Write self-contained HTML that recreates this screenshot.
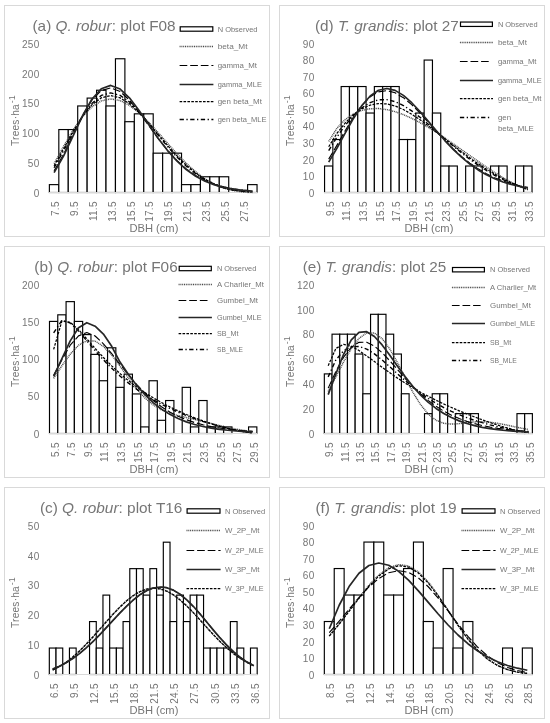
<!DOCTYPE html>
<html><head><meta charset="utf-8"><style>
html,body{margin:0;padding:0;background:#fff;}
svg{display:block;filter:grayscale(100%);}
text{font-family:"Liberation Sans", sans-serif;}
</style></head><body>
<svg width="550" height="723" viewBox="0 0 550 723">
<rect width="550" height="723" fill="#fff"/>
<g><rect x="4.5" y="5.5" width="265" height="231" fill="none" stroke="#d9d9d9" stroke-width="1"/>
<text x="32.5" y="30.6" font-size="14.2" fill="#767676" textLength="143.1" lengthAdjust="spacingAndGlyphs">(a) <tspan font-style="italic">Q. robur</tspan>: plot F08</text>
<text x="39.6" y="196.7" font-size="10.0" text-anchor="end" fill="#767676" letter-spacing="0.3">0</text>
<text x="39.6" y="166.9" font-size="10.0" text-anchor="end" fill="#767676" letter-spacing="0.3">50</text>
<text x="39.6" y="137.1" font-size="10.0" text-anchor="end" fill="#767676" letter-spacing="0.3">100</text>
<text x="39.6" y="107.3" font-size="10.0" text-anchor="end" fill="#767676" letter-spacing="0.3">150</text>
<text x="39.6" y="77.5" font-size="10.0" text-anchor="end" fill="#767676" letter-spacing="0.3">200</text>
<text x="39.6" y="47.7" font-size="10.0" text-anchor="end" fill="#767676" letter-spacing="0.3">250</text>
<text transform="translate(18.6 146) rotate(-90)" font-size="10.2" letter-spacing="0.2" fill="#767676">Trees·ha<tspan font-size="8.2" dx="1" dy="-3.3">-1</tspan></text>
<text transform="translate(59.1 201.2) rotate(-90)" font-size="10.0" fill="#767676" text-anchor="end" letter-spacing="0.3">7.5</text>
<text transform="translate(77.98 201.2) rotate(-90)" font-size="10.0" fill="#767676" text-anchor="end" letter-spacing="0.3">9.5</text>
<text transform="translate(96.86 201.2) rotate(-90)" font-size="10.0" fill="#767676" text-anchor="end" letter-spacing="0.3">11.5</text>
<text transform="translate(115.73 201.2) rotate(-90)" font-size="10.0" fill="#767676" text-anchor="end" letter-spacing="0.3">13.5</text>
<text transform="translate(134.61 201.2) rotate(-90)" font-size="10.0" fill="#767676" text-anchor="end" letter-spacing="0.3">15.5</text>
<text transform="translate(153.49 201.2) rotate(-90)" font-size="10.0" fill="#767676" text-anchor="end" letter-spacing="0.3">17.5</text>
<text transform="translate(172.37 201.2) rotate(-90)" font-size="10.0" fill="#767676" text-anchor="end" letter-spacing="0.3">19.5</text>
<text transform="translate(191.25 201.2) rotate(-90)" font-size="10.0" fill="#767676" text-anchor="end" letter-spacing="0.3">21.5</text>
<text transform="translate(210.12 201.2) rotate(-90)" font-size="10.0" fill="#767676" text-anchor="end" letter-spacing="0.3">23.5</text>
<text transform="translate(229 201.2) rotate(-90)" font-size="10.0" fill="#767676" text-anchor="end" letter-spacing="0.3">25.5</text>
<text transform="translate(247.88 201.2) rotate(-90)" font-size="10.0" fill="#767676" text-anchor="end" letter-spacing="0.3">27.5</text>
<text x="129.4" y="232.2" font-size="10.2" textLength="49" lengthAdjust="spacingAndGlyphs" fill="#767676">DBH (cm)</text>
<rect x="49.38" y="184.63" width="9.44" height="7.87" fill="#fff" stroke="#000" stroke-width="1.15"/>
<rect x="58.82" y="129.56" width="9.44" height="62.94" fill="#fff" stroke="#000" stroke-width="1.15"/>
<rect x="68.26" y="129.56" width="9.44" height="62.94" fill="#fff" stroke="#000" stroke-width="1.15"/>
<rect x="77.7" y="105.96" width="9.44" height="86.54" fill="#fff" stroke="#000" stroke-width="1.15"/>
<rect x="87.14" y="98.09" width="9.44" height="94.41" fill="#fff" stroke="#000" stroke-width="1.15"/>
<rect x="96.58" y="90.23" width="9.44" height="102.27" fill="#fff" stroke="#000" stroke-width="1.15"/>
<rect x="106.01" y="105.96" width="9.44" height="86.54" fill="#fff" stroke="#000" stroke-width="1.15"/>
<rect x="115.45" y="58.76" width="9.44" height="133.74" fill="#fff" stroke="#000" stroke-width="1.15"/>
<rect x="124.89" y="121.7" width="9.44" height="70.8" fill="#fff" stroke="#000" stroke-width="1.15"/>
<rect x="134.33" y="113.83" width="9.44" height="78.67" fill="#fff" stroke="#000" stroke-width="1.15"/>
<rect x="143.77" y="113.83" width="9.44" height="78.67" fill="#fff" stroke="#000" stroke-width="1.15"/>
<rect x="153.21" y="153.16" width="9.44" height="39.34" fill="#fff" stroke="#000" stroke-width="1.15"/>
<rect x="162.65" y="153.16" width="9.44" height="39.34" fill="#fff" stroke="#000" stroke-width="1.15"/>
<rect x="172.09" y="153.16" width="9.44" height="39.34" fill="#fff" stroke="#000" stroke-width="1.15"/>
<rect x="181.53" y="184.63" width="9.44" height="7.87" fill="#fff" stroke="#000" stroke-width="1.15"/>
<rect x="190.97" y="184.63" width="9.44" height="7.87" fill="#fff" stroke="#000" stroke-width="1.15"/>
<rect x="200.41" y="176.77" width="9.44" height="15.73" fill="#fff" stroke="#000" stroke-width="1.15"/>
<rect x="209.84" y="176.77" width="9.44" height="15.73" fill="#fff" stroke="#000" stroke-width="1.15"/>
<rect x="219.28" y="176.77" width="9.44" height="15.73" fill="#fff" stroke="#000" stroke-width="1.15"/>
<rect x="247.6" y="184.63" width="9.44" height="7.87" fill="#fff" stroke="#000" stroke-width="1.15"/>
<line x1="48.88" y1="192.5" x2="257.54" y2="192.5" stroke="#d9d9d9" stroke-width="1"/>
<path d="M54.1 163.7 L63.54 146.46 L72.98 130.31 L82.42 116.82 L91.86 106.88 L101.3 100.91 L110.73 98.9 L120.17 100.57 L129.61 105.42 L139.05 112.83 L148.49 122.06 L157.93 132.4 L167.37 143.14 L176.81 153.63 L186.25 163.34 L195.69 171.85 L205.12 178.89 L214.56 184.33 L224 188.18 L233.44 190.61 L242.88 191.9 L252.32 192.4" fill="none" stroke="#4a4a4a" stroke-width="1.5" stroke-dasharray="1 0.8" stroke-linejoin="round"/>
<path d="M54.1 170.9 L63.54 154.31 L72.98 134.8 L82.42 115.63 L91.86 100.1 L101.3 90.54 L110.73 87.85 L120.17 91.56 L129.61 100.24 L139.05 112.04 L148.49 125.19 L157.93 138.23 L167.37 150.16 L176.81 160.44 L186.25 168.86 L195.69 175.5 L205.12 180.54 L214.56 184.25 L224 186.92 L233.44 188.79 L242.88 190.07 L252.32 190.94" fill="none" stroke="#000" stroke-width="1.15" stroke-dasharray="7.7 2.9" stroke-linejoin="round"/>
<path d="M54.1 165.86 L63.54 148.81 L72.98 131.66 L82.42 116.46 L91.86 104.85 L101.3 97.8 L110.73 95.59 L120.17 97.87 L129.61 103.87 L139.05 112.59 L148.49 123 L157.93 134.15 L167.37 145.24 L176.81 155.67 L186.25 165 L195.69 172.95 L205.12 179.39 L214.56 184.3 L224 187.8 L233.44 190.06 L242.88 191.35 L252.32 191.96" fill="none" stroke="#000" stroke-width="1.25" stroke-dasharray="2.6 1.3" stroke-linejoin="round"/>
<path d="M54.1 167.74 L63.54 150.84 L72.98 132.96 L82.42 116.46 L91.86 103.47 L101.3 95.42 L110.73 92.83 L120.17 95.38 L129.61 102.1 L139.05 111.75 L148.49 123.05 L157.93 134.88 L167.37 146.37 L176.81 156.91 L186.25 166.12 L195.69 173.81 L205.12 179.94 L214.56 184.56 L224 187.83 L233.44 189.97 L242.88 191.21 L252.32 191.84" fill="none" stroke="#000" stroke-width="1.4" stroke-dasharray="4.3 2.5 1.3 2.5" stroke-linejoin="round"/>
<path d="M54.1 172.67 L63.54 156.19 L72.98 136.19 L82.42 116.02 L91.86 99.29 L101.3 88.71 L110.73 85.42 L120.17 89.03 L129.61 98.03 L139.05 110.43 L148.49 124.25 L157.93 137.91 L167.37 150.33 L176.81 160.93 L186.25 169.52 L195.69 176.2 L205.12 181.21 L214.56 184.85 L224 187.41 L233.44 189.18 L242.88 190.37 L252.32 191.15" fill="none" stroke="#262626" stroke-width="1.7" stroke-linejoin="round"/>
<rect x="180.2" y="26.8" width="32.6" height="4.4" fill="#fff" stroke="#000" stroke-width="1.2"/>
<text x="217.7" y="31.5" font-size="7.9" textLength="39.8" lengthAdjust="spacingAndGlyphs" fill="#767676">N Observed</text>
<line x1="179.6" y1="46.5" x2="213.4" y2="46.5" fill="none" stroke="#4a4a4a" stroke-width="1.5" stroke-dasharray="1 0.8"/>
<text x="217.7" y="49.4" font-size="7.9" textLength="29.8" lengthAdjust="spacingAndGlyphs" fill="#767676">beta_Mt</text>
<line x1="179.6" y1="65.5" x2="213.4" y2="65.5" fill="none" stroke="#000" stroke-width="1.15" stroke-dasharray="7.7 2.9"/>
<text x="217.7" y="67.9" font-size="7.9" textLength="39.3" lengthAdjust="spacingAndGlyphs" fill="#767676">gamma_Mt</text>
<line x1="179.6" y1="84.5" x2="213.4" y2="84.5" fill="none" stroke="#262626" stroke-width="1.7"/>
<text x="217.7" y="86.5" font-size="7.9" textLength="44.2" lengthAdjust="spacingAndGlyphs" fill="#767676">gamma_MLE</text>
<line x1="179.6" y1="101.5" x2="213.4" y2="101.5" fill="none" stroke="#000" stroke-width="1.25" stroke-dasharray="2.6 1.3"/>
<text x="217.7" y="103.9" font-size="7.9" textLength="44.2" lengthAdjust="spacingAndGlyphs" fill="#767676">gen beta_Mt</text>
<line x1="179.6" y1="119.5" x2="213.4" y2="119.5" fill="none" stroke="#000" stroke-width="1.4" stroke-dasharray="4.3 2.5 1.3 2.5"/>
<text x="217.7" y="122.3" font-size="7.9" textLength="48.8" lengthAdjust="spacingAndGlyphs" fill="#767676">gen beta_MLE</text></g>
<g><rect x="279.5" y="5.5" width="265" height="231" fill="none" stroke="#d9d9d9" stroke-width="1"/>
<text x="315" y="30.6" font-size="14.2" fill="#767676" textLength="143.8" lengthAdjust="spacingAndGlyphs">(d) <tspan font-style="italic">T. grandis</tspan>: plot 27</text>
<text x="314.6" y="196.7" font-size="10.0" text-anchor="end" fill="#767676" letter-spacing="0.3">0</text>
<text x="314.6" y="180.14" font-size="10.0" text-anchor="end" fill="#767676" letter-spacing="0.3">10</text>
<text x="314.6" y="163.59" font-size="10.0" text-anchor="end" fill="#767676" letter-spacing="0.3">20</text>
<text x="314.6" y="147.03" font-size="10.0" text-anchor="end" fill="#767676" letter-spacing="0.3">30</text>
<text x="314.6" y="130.48" font-size="10.0" text-anchor="end" fill="#767676" letter-spacing="0.3">40</text>
<text x="314.6" y="113.92" font-size="10.0" text-anchor="end" fill="#767676" letter-spacing="0.3">50</text>
<text x="314.6" y="97.37" font-size="10.0" text-anchor="end" fill="#767676" letter-spacing="0.3">60</text>
<text x="314.6" y="80.81" font-size="10.0" text-anchor="end" fill="#767676" letter-spacing="0.3">70</text>
<text x="314.6" y="64.26" font-size="10.0" text-anchor="end" fill="#767676" letter-spacing="0.3">80</text>
<text x="314.6" y="47.7" font-size="10.0" text-anchor="end" fill="#767676" letter-spacing="0.3">90</text>
<text transform="translate(293.6 146) rotate(-90)" font-size="10.2" letter-spacing="0.2" fill="#767676">Trees·ha<tspan font-size="8.2" dx="1" dy="-3.3">-1</tspan></text>
<text transform="translate(333.71 201.2) rotate(-90)" font-size="10.0" fill="#767676" text-anchor="end" letter-spacing="0.3">9.5</text>
<text transform="translate(350.31 201.2) rotate(-90)" font-size="10.0" fill="#767676" text-anchor="end" letter-spacing="0.3">11.5</text>
<text transform="translate(366.91 201.2) rotate(-90)" font-size="10.0" fill="#767676" text-anchor="end" letter-spacing="0.3">13.5</text>
<text transform="translate(383.5 201.2) rotate(-90)" font-size="10.0" fill="#767676" text-anchor="end" letter-spacing="0.3">15.5</text>
<text transform="translate(400.1 201.2) rotate(-90)" font-size="10.0" fill="#767676" text-anchor="end" letter-spacing="0.3">17.5</text>
<text transform="translate(416.7 201.2) rotate(-90)" font-size="10.0" fill="#767676" text-anchor="end" letter-spacing="0.3">19.5</text>
<text transform="translate(433.3 201.2) rotate(-90)" font-size="10.0" fill="#767676" text-anchor="end" letter-spacing="0.3">21.5</text>
<text transform="translate(449.9 201.2) rotate(-90)" font-size="10.0" fill="#767676" text-anchor="end" letter-spacing="0.3">23.5</text>
<text transform="translate(466.5 201.2) rotate(-90)" font-size="10.0" fill="#767676" text-anchor="end" letter-spacing="0.3">25.5</text>
<text transform="translate(483.1 201.2) rotate(-90)" font-size="10.0" fill="#767676" text-anchor="end" letter-spacing="0.3">27.5</text>
<text transform="translate(499.69 201.2) rotate(-90)" font-size="10.0" fill="#767676" text-anchor="end" letter-spacing="0.3">29.5</text>
<text transform="translate(516.29 201.2) rotate(-90)" font-size="10.0" fill="#767676" text-anchor="end" letter-spacing="0.3">31.5</text>
<text transform="translate(532.89 201.2) rotate(-90)" font-size="10.0" fill="#767676" text-anchor="end" letter-spacing="0.3">33.5</text>
<text x="404.4" y="232.2" font-size="10.2" textLength="49" lengthAdjust="spacingAndGlyphs" fill="#767676">DBH (cm)</text>
<rect x="324.56" y="166.01" width="8.3" height="26.49" fill="#fff" stroke="#000" stroke-width="1.15"/>
<rect x="332.86" y="139.52" width="8.3" height="52.98" fill="#fff" stroke="#000" stroke-width="1.15"/>
<rect x="341.16" y="86.54" width="8.3" height="105.96" fill="#fff" stroke="#000" stroke-width="1.15"/>
<rect x="349.46" y="86.54" width="8.3" height="105.96" fill="#fff" stroke="#000" stroke-width="1.15"/>
<rect x="357.76" y="86.54" width="8.3" height="105.96" fill="#fff" stroke="#000" stroke-width="1.15"/>
<rect x="366.06" y="113.03" width="8.3" height="79.47" fill="#fff" stroke="#000" stroke-width="1.15"/>
<rect x="374.36" y="86.54" width="8.3" height="105.96" fill="#fff" stroke="#000" stroke-width="1.15"/>
<rect x="382.65" y="86.54" width="8.3" height="105.96" fill="#fff" stroke="#000" stroke-width="1.15"/>
<rect x="390.95" y="86.54" width="8.3" height="105.96" fill="#fff" stroke="#000" stroke-width="1.15"/>
<rect x="399.25" y="139.52" width="8.3" height="52.98" fill="#fff" stroke="#000" stroke-width="1.15"/>
<rect x="407.55" y="139.52" width="8.3" height="52.98" fill="#fff" stroke="#000" stroke-width="1.15"/>
<rect x="415.85" y="113.03" width="8.3" height="79.47" fill="#fff" stroke="#000" stroke-width="1.15"/>
<rect x="424.15" y="60.06" width="8.3" height="132.44" fill="#fff" stroke="#000" stroke-width="1.15"/>
<rect x="432.45" y="113.03" width="8.3" height="79.47" fill="#fff" stroke="#000" stroke-width="1.15"/>
<rect x="440.75" y="166.01" width="8.3" height="26.49" fill="#fff" stroke="#000" stroke-width="1.15"/>
<rect x="449.05" y="166.01" width="8.3" height="26.49" fill="#fff" stroke="#000" stroke-width="1.15"/>
<rect x="465.65" y="166.01" width="8.3" height="26.49" fill="#fff" stroke="#000" stroke-width="1.15"/>
<rect x="473.95" y="166.01" width="8.3" height="26.49" fill="#fff" stroke="#000" stroke-width="1.15"/>
<rect x="490.54" y="166.01" width="8.3" height="26.49" fill="#fff" stroke="#000" stroke-width="1.15"/>
<rect x="498.84" y="166.01" width="8.3" height="26.49" fill="#fff" stroke="#000" stroke-width="1.15"/>
<rect x="515.44" y="166.01" width="8.3" height="26.49" fill="#fff" stroke="#000" stroke-width="1.15"/>
<rect x="523.74" y="166.01" width="8.3" height="26.49" fill="#fff" stroke="#000" stroke-width="1.15"/>
<line x1="324.06" y1="192.5" x2="532.54" y2="192.5" stroke="#d9d9d9" stroke-width="1"/>
<path d="M328.71 141.43 L337.01 128.18 L345.31 119.45 L353.61 113.76 L361.91 110.33 L370.21 108.7 L378.5 108.54 L386.8 109.59 L395.1 111.68 L403.4 114.63 L411.7 118.31 L420 122.6 L428.3 127.39 L436.6 132.58 L444.9 138.07 L453.2 143.78 L461.5 149.62 L469.8 155.5 L478.1 161.34 L486.39 167.05 L494.69 172.53 L502.99 177.67 L511.29 182.37 L519.59 186.47 L527.89 189.8" fill="none" stroke="#4a4a4a" stroke-width="1.5" stroke-dasharray="1 0.8" stroke-linejoin="round"/>
<path d="M328.71 159.13 L337.01 145.12 L345.31 130.52 L353.61 116.79 L361.91 105.21 L370.21 96.74 L378.5 91.86 L386.8 90.63 L395.1 92.75 L403.4 97.67 L411.7 104.68 L420 113.09 L428.3 122.22 L436.6 131.5 L444.9 140.48 L453.2 148.87 L461.5 156.45 L469.8 163.12 L478.1 168.86 L486.39 173.71 L494.69 177.72 L502.99 181 L511.29 183.64 L519.59 185.73 L527.89 187.38" fill="none" stroke="#000" stroke-width="1.15" stroke-dasharray="7.7 2.9" stroke-linejoin="round"/>
<path d="M328.71 146.74 L337.01 133.26 L345.31 122.77 L353.61 114.67 L361.91 108.79 L370.21 105.11 L378.5 103.53 L386.8 103.91 L395.1 106 L403.4 109.54 L411.7 114.22 L420 119.75 L428.3 125.84 L436.6 132.25 L444.9 138.79 L453.2 145.31 L461.5 151.67 L469.8 157.79 L478.1 163.6 L486.39 169.05 L494.69 174.09 L502.99 178.67 L511.29 182.75 L519.59 186.25 L527.89 189.07" fill="none" stroke="#000" stroke-width="1.25" stroke-dasharray="2.6 1.3" stroke-linejoin="round"/>
<path d="M328.71 150.61 L337.01 136.91 L345.31 125.21 L353.61 115.42 L361.91 107.78 L370.21 102.55 L378.5 99.85 L386.8 99.62 L395.1 101.63 L403.4 105.53 L411.7 110.89 L420 117.28 L428.3 124.31 L436.6 131.62 L444.9 138.95 L453.2 146.08 L461.5 152.87 L469.8 159.22 L478.1 165.09 L486.39 170.44 L494.69 175.27 L502.99 179.56 L511.29 183.3 L519.59 186.46 L527.89 188.98" fill="none" stroke="#000" stroke-width="1.4" stroke-dasharray="4.3 2.5 1.3 2.5" stroke-linejoin="round"/>
<path d="M328.71 162.14 L337.01 148.02 L345.31 132.86 L353.61 118.2 L361.91 105.54 L370.21 96.01 L378.5 90.27 L386.8 88.49 L395.1 90.39 L403.4 95.38 L411.7 102.72 L420 111.6 L428.3 121.26 L436.6 131.08 L444.9 140.55 L453.2 149.32 L461.5 157.19 L469.8 164.05 L478.1 169.9 L486.39 174.77 L494.69 178.76 L502.99 181.97 L511.29 184.51 L519.59 186.5 L527.89 188.03" fill="none" stroke="#262626" stroke-width="1.7" stroke-linejoin="round"/>
<rect x="460.5" y="22.05" width="31.9" height="4.4" fill="#fff" stroke="#000" stroke-width="1.2"/>
<text x="497.9" y="26.75" font-size="7.9" textLength="39.7" lengthAdjust="spacingAndGlyphs" fill="#767676">N Observed</text>
<line x1="459.9" y1="42.5" x2="493" y2="42.5" fill="none" stroke="#4a4a4a" stroke-width="1.5" stroke-dasharray="1 0.8"/>
<text x="497.9" y="44.7" font-size="7.9" textLength="29.1" lengthAdjust="spacingAndGlyphs" fill="#767676">beta_Mt</text>
<line x1="459.9" y1="61.5" x2="488.7" y2="61.5" fill="none" stroke="#000" stroke-width="1.15" stroke-dasharray="7.7 2.9"/>
<text x="497.9" y="64.4" font-size="7.9" textLength="38.6" lengthAdjust="spacingAndGlyphs" fill="#767676">gamma_Mt</text>
<line x1="459.9" y1="80.5" x2="493" y2="80.5" fill="none" stroke="#262626" stroke-width="1.7"/>
<text x="497.9" y="82.5" font-size="7.9" textLength="43.8" lengthAdjust="spacingAndGlyphs" fill="#767676">gamma_MLE</text>
<line x1="459.9" y1="98.5" x2="493" y2="98.5" fill="none" stroke="#000" stroke-width="1.25" stroke-dasharray="2.6 1.3"/>
<text x="497.9" y="101" font-size="7.9" textLength="43.5" lengthAdjust="spacingAndGlyphs" fill="#767676">gen beta_Mt</text>
<line x1="459.9" y1="117.5" x2="489.4" y2="117.5" fill="none" stroke="#000" stroke-width="1.4" stroke-dasharray="4.3 2.5 1.3 2.5"/>
<text x="497.9" y="119.5" font-size="7.9" fill="#767676">gen</text>
<text x="497.9" y="130.7" font-size="7.9" fill="#767676">beta_MLE</text></g>
<g><rect x="4.5" y="246.5" width="265" height="231" fill="none" stroke="#d9d9d9" stroke-width="1"/>
<text x="34.3" y="271.6" font-size="14.2" fill="#767676" textLength="143.4" lengthAdjust="spacingAndGlyphs">(b) <tspan font-style="italic">Q. robur</tspan>: plot F06</text>
<text x="39.6" y="437.7" font-size="10.0" text-anchor="end" fill="#767676" letter-spacing="0.3">0</text>
<text x="39.6" y="400.45" font-size="10.0" text-anchor="end" fill="#767676" letter-spacing="0.3">50</text>
<text x="39.6" y="363.2" font-size="10.0" text-anchor="end" fill="#767676" letter-spacing="0.3">100</text>
<text x="39.6" y="325.95" font-size="10.0" text-anchor="end" fill="#767676" letter-spacing="0.3">150</text>
<text x="39.6" y="288.7" font-size="10.0" text-anchor="end" fill="#767676" letter-spacing="0.3">200</text>
<text transform="translate(18.6 387) rotate(-90)" font-size="10.2" letter-spacing="0.2" fill="#767676">Trees·ha<tspan font-size="8.2" dx="1" dy="-3.3">-1</tspan></text>
<text transform="translate(58.64 442.2) rotate(-90)" font-size="10.0" fill="#767676" text-anchor="end" letter-spacing="0.3">5.5</text>
<text transform="translate(75.23 442.2) rotate(-90)" font-size="10.0" fill="#767676" text-anchor="end" letter-spacing="0.3">7.5</text>
<text transform="translate(91.81 442.2) rotate(-90)" font-size="10.0" fill="#767676" text-anchor="end" letter-spacing="0.3">9.5</text>
<text transform="translate(108.4 442.2) rotate(-90)" font-size="10.0" fill="#767676" text-anchor="end" letter-spacing="0.3">11.5</text>
<text transform="translate(124.99 442.2) rotate(-90)" font-size="10.0" fill="#767676" text-anchor="end" letter-spacing="0.3">13.5</text>
<text transform="translate(141.58 442.2) rotate(-90)" font-size="10.0" fill="#767676" text-anchor="end" letter-spacing="0.3">15.5</text>
<text transform="translate(158.17 442.2) rotate(-90)" font-size="10.0" fill="#767676" text-anchor="end" letter-spacing="0.3">17.5</text>
<text transform="translate(174.76 442.2) rotate(-90)" font-size="10.0" fill="#767676" text-anchor="end" letter-spacing="0.3">19.5</text>
<text transform="translate(191.35 442.2) rotate(-90)" font-size="10.0" fill="#767676" text-anchor="end" letter-spacing="0.3">21.5</text>
<text transform="translate(207.94 442.2) rotate(-90)" font-size="10.0" fill="#767676" text-anchor="end" letter-spacing="0.3">23.5</text>
<text transform="translate(224.53 442.2) rotate(-90)" font-size="10.0" fill="#767676" text-anchor="end" letter-spacing="0.3">25.5</text>
<text transform="translate(241.11 442.2) rotate(-90)" font-size="10.0" fill="#767676" text-anchor="end" letter-spacing="0.3">27.5</text>
<text transform="translate(257.7 442.2) rotate(-90)" font-size="10.0" fill="#767676" text-anchor="end" letter-spacing="0.3">29.5</text>
<text x="129.4" y="473.2" font-size="10.2" textLength="49" lengthAdjust="spacingAndGlyphs" fill="#767676">DBH (cm)</text>
<rect x="49.49" y="321.41" width="8.29" height="112.09" fill="#fff" stroke="#000" stroke-width="1.15"/>
<rect x="57.78" y="314.82" width="8.29" height="118.68" fill="#fff" stroke="#000" stroke-width="1.15"/>
<rect x="66.08" y="301.63" width="8.29" height="131.87" fill="#fff" stroke="#000" stroke-width="1.15"/>
<rect x="74.37" y="321.41" width="8.29" height="112.09" fill="#fff" stroke="#000" stroke-width="1.15"/>
<rect x="82.67" y="334.6" width="8.29" height="98.9" fill="#fff" stroke="#000" stroke-width="1.15"/>
<rect x="90.96" y="354.38" width="8.29" height="79.12" fill="#fff" stroke="#000" stroke-width="1.15"/>
<rect x="99.26" y="380.75" width="8.29" height="52.75" fill="#fff" stroke="#000" stroke-width="1.15"/>
<rect x="107.55" y="347.79" width="8.29" height="85.71" fill="#fff" stroke="#000" stroke-width="1.15"/>
<rect x="115.85" y="387.35" width="8.29" height="46.15" fill="#fff" stroke="#000" stroke-width="1.15"/>
<rect x="124.14" y="374.16" width="8.29" height="59.34" fill="#fff" stroke="#000" stroke-width="1.15"/>
<rect x="132.43" y="393.94" width="8.29" height="39.56" fill="#fff" stroke="#000" stroke-width="1.15"/>
<rect x="140.73" y="426.91" width="8.29" height="6.59" fill="#fff" stroke="#000" stroke-width="1.15"/>
<rect x="149.02" y="380.75" width="8.29" height="52.75" fill="#fff" stroke="#000" stroke-width="1.15"/>
<rect x="157.32" y="420.31" width="8.29" height="13.19" fill="#fff" stroke="#000" stroke-width="1.15"/>
<rect x="165.61" y="400.53" width="8.29" height="32.97" fill="#fff" stroke="#000" stroke-width="1.15"/>
<rect x="182.2" y="387.35" width="8.29" height="46.15" fill="#fff" stroke="#000" stroke-width="1.15"/>
<rect x="190.49" y="426.91" width="8.29" height="6.59" fill="#fff" stroke="#000" stroke-width="1.15"/>
<rect x="198.79" y="400.53" width="8.29" height="32.97" fill="#fff" stroke="#000" stroke-width="1.15"/>
<rect x="207.08" y="426.91" width="8.29" height="6.59" fill="#fff" stroke="#000" stroke-width="1.15"/>
<rect x="215.38" y="426.91" width="8.29" height="6.59" fill="#fff" stroke="#000" stroke-width="1.15"/>
<rect x="223.67" y="426.91" width="8.29" height="6.59" fill="#fff" stroke="#000" stroke-width="1.15"/>
<rect x="248.56" y="426.91" width="8.29" height="6.59" fill="#fff" stroke="#000" stroke-width="1.15"/>
<line x1="48.99" y1="433.5" x2="257.35" y2="433.5" stroke="#d9d9d9" stroke-width="1"/>
<path d="M53.64 378.37 L61.93 365.7 L70.23 354.16 L78.52 345.22 L86.81 340.75 L95.11 341.12 L103.4 346.33 L111.7 354.88 L119.99 366.13 L128.29 377.9 L136.58 388.8 L144.88 397.9 L153.17 404.85 L161.46 409.78 L169.76 413.16 L178.05 415.58 L186.35 417.56 L194.64 419.47 L202.94 421.46 L211.23 423.52 L219.53 425.57 L227.82 427.47 L236.11 429.12 L244.41 430.45 L252.7 431.48" fill="none" stroke="#4a4a4a" stroke-width="1.5" stroke-dasharray="1 0.8" stroke-linejoin="round"/>
<path d="M53.64 375.39 L61.93 359.75 L70.23 345.22 L78.52 335.9 L86.81 332.55 L95.11 336.03 L103.4 343.81 L111.7 353.68 L119.99 364.3 L128.29 374.74 L136.58 384.41 L144.88 393 L153.17 400.43 L161.46 406.71 L169.76 411.93 L178.05 416.22 L186.35 419.71 L194.64 422.52 L202.94 424.79 L211.23 426.6 L219.53 428.04 L227.82 429.18 L236.11 430.09 L244.41 430.81 L252.7 431.38" fill="none" stroke="#000" stroke-width="1.15" stroke-dasharray="7.7 2.9" stroke-linejoin="round"/>
<path d="M53.64 349.31 L61.93 321 L70.23 322.36 L78.52 329.61 L86.81 338.88 L95.11 348.4 L103.4 357.48 L111.7 365.88 L119.99 373.56 L128.29 380.53 L136.58 386.85 L144.88 392.58 L153.17 397.79 L161.46 402.54 L169.76 406.88 L178.05 410.84 L186.35 414.48 L194.64 417.81 L202.94 420.86 L211.23 423.65 L219.53 426.17 L227.82 428.41 L236.11 430.35 L244.41 431.91 L252.7 433" fill="none" stroke="#000" stroke-width="1.25" stroke-dasharray="2.6 1.3" stroke-linejoin="round"/>
<path d="M53.64 332.93 L61.93 320.26 L70.23 322.96 L78.52 330.91 L86.81 340.73 L95.11 350.6 L103.4 359.87 L111.7 368.35 L119.99 376.01 L128.29 382.9 L136.58 389.09 L144.88 394.66 L153.17 399.68 L161.46 404.22 L169.76 408.34 L178.05 412.08 L186.35 415.48 L194.64 418.58 L202.94 421.4 L211.23 423.97 L219.53 426.28 L227.82 428.33 L236.11 430.12 L244.41 431.6 L252.7 432.72" fill="none" stroke="#000" stroke-width="1.4" stroke-dasharray="4.3 2.5 1.3 2.5" stroke-linejoin="round"/>
<path d="M53.64 376.28 L61.93 358.63 L70.23 340.9 L78.52 327.71 L86.81 322.72 L95.11 326.22 L103.4 334.04 L111.7 346.33 L119.99 362.08 L128.29 374.26 L136.58 385.22 L144.88 394.67 L153.17 402.6 L161.46 409.1 L169.76 414.35 L178.05 418.54 L186.35 421.86 L194.64 424.46 L202.94 426.5 L211.23 428.09 L219.53 429.32 L227.82 430.27 L236.11 431.01 L244.41 431.58 L252.7 432.02" fill="none" stroke="#262626" stroke-width="1.7" stroke-linejoin="round"/>
<rect x="179.2" y="266.3" width="32.1" height="4.4" fill="#fff" stroke="#000" stroke-width="1.2"/>
<text x="217" y="271" font-size="7.9" textLength="39.3" lengthAdjust="spacingAndGlyphs" fill="#767676">N Observed</text>
<line x1="178.6" y1="284.5" x2="211.9" y2="284.5" fill="none" stroke="#4a4a4a" stroke-width="1.5" stroke-dasharray="1 0.8"/>
<text x="217" y="287.3" font-size="7.9" textLength="47" lengthAdjust="spacingAndGlyphs" fill="#767676">A Charlier_Mt</text>
<line x1="178.6" y1="300.5" x2="207.6" y2="300.5" fill="none" stroke="#000" stroke-width="1.15" stroke-dasharray="7.7 2.9"/>
<text x="217" y="303.1" font-size="7.9" textLength="41" lengthAdjust="spacingAndGlyphs" fill="#767676">Gumbel_Mt</text>
<line x1="178.6" y1="317.5" x2="211.9" y2="317.5" fill="none" stroke="#262626" stroke-width="1.7"/>
<text x="217" y="319.5" font-size="7.9" textLength="44.5" lengthAdjust="spacingAndGlyphs" fill="#767676">Gumbel_MLE</text>
<line x1="178.6" y1="333.5" x2="211.9" y2="333.5" fill="none" stroke="#000" stroke-width="1.25" stroke-dasharray="2.6 1.3"/>
<text x="217" y="335.7" font-size="7.9" textLength="21.4" lengthAdjust="spacingAndGlyphs" fill="#767676">SB_Mt</text>
<line x1="178.6" y1="349.5" x2="207.6" y2="349.5" fill="none" stroke="#000" stroke-width="1.4" stroke-dasharray="4.3 2.5 1.3 2.5"/>
<text x="217" y="351.7" font-size="7.9" textLength="26" lengthAdjust="spacingAndGlyphs" fill="#767676">SB_MLE</text></g>
<g><rect x="279.5" y="246.5" width="265" height="231" fill="none" stroke="#d9d9d9" stroke-width="1"/>
<text x="302.7" y="271.6" font-size="14.2" fill="#767676" textLength="143.5" lengthAdjust="spacingAndGlyphs">(e) <tspan font-style="italic">T. grandis</tspan>: plot 25</text>
<text x="314.6" y="437.7" font-size="10.0" text-anchor="end" fill="#767676" letter-spacing="0.3">0</text>
<text x="314.6" y="412.87" font-size="10.0" text-anchor="end" fill="#767676" letter-spacing="0.3">20</text>
<text x="314.6" y="388.03" font-size="10.0" text-anchor="end" fill="#767676" letter-spacing="0.3">40</text>
<text x="314.6" y="363.2" font-size="10.0" text-anchor="end" fill="#767676" letter-spacing="0.3">60</text>
<text x="314.6" y="338.37" font-size="10.0" text-anchor="end" fill="#767676" letter-spacing="0.3">80</text>
<text x="314.6" y="313.53" font-size="10.0" text-anchor="end" fill="#767676" letter-spacing="0.3">100</text>
<text x="314.6" y="288.7" font-size="10.0" text-anchor="end" fill="#767676" letter-spacing="0.3">120</text>
<text transform="translate(293.6 387) rotate(-90)" font-size="10.2" letter-spacing="0.2" fill="#767676">Trees·ha<tspan font-size="8.2" dx="1" dy="-3.3">-1</tspan></text>
<text transform="translate(333.18 442.2) rotate(-90)" font-size="10.0" fill="#767676" text-anchor="end" letter-spacing="0.3">9.5</text>
<text transform="translate(348.59 442.2) rotate(-90)" font-size="10.0" fill="#767676" text-anchor="end" letter-spacing="0.3">11.5</text>
<text transform="translate(364 442.2) rotate(-90)" font-size="10.0" fill="#767676" text-anchor="end" letter-spacing="0.3">13.5</text>
<text transform="translate(379.42 442.2) rotate(-90)" font-size="10.0" fill="#767676" text-anchor="end" letter-spacing="0.3">15.5</text>
<text transform="translate(394.83 442.2) rotate(-90)" font-size="10.0" fill="#767676" text-anchor="end" letter-spacing="0.3">17.5</text>
<text transform="translate(410.24 442.2) rotate(-90)" font-size="10.0" fill="#767676" text-anchor="end" letter-spacing="0.3">19.5</text>
<text transform="translate(425.65 442.2) rotate(-90)" font-size="10.0" fill="#767676" text-anchor="end" letter-spacing="0.3">21.5</text>
<text transform="translate(441.06 442.2) rotate(-90)" font-size="10.0" fill="#767676" text-anchor="end" letter-spacing="0.3">23.5</text>
<text transform="translate(456.47 442.2) rotate(-90)" font-size="10.0" fill="#767676" text-anchor="end" letter-spacing="0.3">25.5</text>
<text transform="translate(471.88 442.2) rotate(-90)" font-size="10.0" fill="#767676" text-anchor="end" letter-spacing="0.3">27.5</text>
<text transform="translate(487.29 442.2) rotate(-90)" font-size="10.0" fill="#767676" text-anchor="end" letter-spacing="0.3">29.5</text>
<text transform="translate(502.7 442.2) rotate(-90)" font-size="10.0" fill="#767676" text-anchor="end" letter-spacing="0.3">31.5</text>
<text transform="translate(518.12 442.2) rotate(-90)" font-size="10.0" fill="#767676" text-anchor="end" letter-spacing="0.3">33.5</text>
<text transform="translate(533.53 442.2) rotate(-90)" font-size="10.0" fill="#767676" text-anchor="end" letter-spacing="0.3">35.5</text>
<text x="404.4" y="473.2" font-size="10.2" textLength="49" lengthAdjust="spacingAndGlyphs" fill="#767676">DBH (cm)</text>
<rect x="324.33" y="373.9" width="7.71" height="59.6" fill="#fff" stroke="#000" stroke-width="1.15"/>
<rect x="332.04" y="334.17" width="7.71" height="99.33" fill="#fff" stroke="#000" stroke-width="1.15"/>
<rect x="339.74" y="334.17" width="7.71" height="99.33" fill="#fff" stroke="#000" stroke-width="1.15"/>
<rect x="347.45" y="334.17" width="7.71" height="99.33" fill="#fff" stroke="#000" stroke-width="1.15"/>
<rect x="355.15" y="354.03" width="7.71" height="79.47" fill="#fff" stroke="#000" stroke-width="1.15"/>
<rect x="362.86" y="393.77" width="7.71" height="39.73" fill="#fff" stroke="#000" stroke-width="1.15"/>
<rect x="370.56" y="314.3" width="7.71" height="119.2" fill="#fff" stroke="#000" stroke-width="1.15"/>
<rect x="378.27" y="314.3" width="7.71" height="119.2" fill="#fff" stroke="#000" stroke-width="1.15"/>
<rect x="385.97" y="334.17" width="7.71" height="99.33" fill="#fff" stroke="#000" stroke-width="1.15"/>
<rect x="393.68" y="354.03" width="7.71" height="79.47" fill="#fff" stroke="#000" stroke-width="1.15"/>
<rect x="401.39" y="393.77" width="7.71" height="39.73" fill="#fff" stroke="#000" stroke-width="1.15"/>
<rect x="424.5" y="413.63" width="7.71" height="19.87" fill="#fff" stroke="#000" stroke-width="1.15"/>
<rect x="432.21" y="393.77" width="7.71" height="39.73" fill="#fff" stroke="#000" stroke-width="1.15"/>
<rect x="439.91" y="393.77" width="7.71" height="39.73" fill="#fff" stroke="#000" stroke-width="1.15"/>
<rect x="455.32" y="413.63" width="7.71" height="19.87" fill="#fff" stroke="#000" stroke-width="1.15"/>
<rect x="463.03" y="413.63" width="7.71" height="19.87" fill="#fff" stroke="#000" stroke-width="1.15"/>
<rect x="470.74" y="413.63" width="7.71" height="19.87" fill="#fff" stroke="#000" stroke-width="1.15"/>
<rect x="516.97" y="413.63" width="7.71" height="19.87" fill="#fff" stroke="#000" stroke-width="1.15"/>
<rect x="524.67" y="413.63" width="7.71" height="19.87" fill="#fff" stroke="#000" stroke-width="1.15"/>
<line x1="323.83" y1="433.5" x2="532.88" y2="433.5" stroke="#d9d9d9" stroke-width="1"/>
<path d="M328.18 391.49 L335.89 376.79 L343.59 361.92 L351.3 348.55 L359 338.4 L366.71 332.93 L374.42 332.98 L382.12 338.62 L389.83 349.03 L397.53 362.72 L405.24 377.79 L412.94 392.33 L420.65 404.78 L428.36 414.17 L436.06 420.24 L443.77 423.3 L451.47 424.13 L459.18 423.62 L466.88 422.66 L474.59 421.9 L482.29 421.71 L490 422.21 L497.7 423.31 L505.41 424.8 L513.12 426.45 L520.82 428.06 L528.53 429.5" fill="none" stroke="#4a4a4a" stroke-width="1.5" stroke-dasharray="1 0.8" stroke-linejoin="round"/>
<path d="M328.18 388.13 L335.89 371.47 L343.59 357.17 L351.3 347.19 L359 342.31 L366.71 342.26 L374.42 346.11 L382.12 352.68 L389.83 360.82 L397.53 369.6 L405.24 378.33 L412.94 386.55 L420.65 394.01 L428.36 400.6 L436.06 406.29 L443.77 411.13 L451.47 415.2 L459.18 418.58 L466.88 421.38 L474.59 423.68 L482.29 425.56 L490 427.08 L497.7 428.33 L505.41 429.33 L513.12 430.14 L520.82 430.8 L528.53 431.33" fill="none" stroke="#000" stroke-width="1.15" stroke-dasharray="7.7 2.9" stroke-linejoin="round"/>
<path d="M328.18 365.63 L335.89 348.37 L343.59 344.39 L351.3 346.19 L359 350.53 L366.71 355.91 L374.42 361.62 L382.12 367.32 L389.83 372.84 L397.53 378.11 L405.24 383.09 L412.94 387.78 L420.65 392.19 L428.36 396.35 L436.06 400.27 L443.77 403.98 L451.47 407.48 L459.18 410.81 L466.88 413.96 L474.59 416.97 L482.29 419.82 L490 422.53 L497.7 425.08 L505.41 427.45 L513.12 429.6 L520.82 431.44 L528.53 432.81" fill="none" stroke="#000" stroke-width="1.25" stroke-dasharray="2.6 1.3" stroke-linejoin="round"/>
<path d="M328.18 376.88 L335.89 359.92 L343.59 350.78 L351.3 346.69 L359 346.42 L366.71 349.08 L374.42 353.86 L382.12 360 L389.83 366.83 L397.53 373.86 L405.24 380.71 L412.94 387.17 L420.65 393.1 L428.36 398.47 L436.06 403.28 L443.77 407.55 L451.47 411.34 L459.18 414.69 L466.88 417.67 L474.59 420.32 L482.29 422.69 L490 424.81 L497.7 426.7 L505.41 428.39 L513.12 429.87 L520.82 431.12 L528.53 432.07" fill="none" stroke="#000" stroke-width="1.4" stroke-dasharray="4.3 2.5 1.3 2.5" stroke-linejoin="round"/>
<path d="M328.18 394.58 L335.89 373.75 L343.59 354.3 L351.3 339.91 L359 332.4 L366.71 331.69 L374.42 336.46 L382.12 344.9 L389.83 355.29 L397.53 366.25 L405.24 376.85 L412.94 386.54 L420.65 395.06 L428.36 402.35 L436.06 408.44 L443.77 413.47 L451.47 417.56 L459.18 420.86 L466.88 423.51 L474.59 425.62 L482.29 427.3 L490 428.62 L497.7 429.67 L505.41 430.5 L513.12 431.14 L520.82 431.65 L528.53 432.05" fill="none" stroke="#262626" stroke-width="1.7" stroke-linejoin="round"/>
<rect x="452.5" y="267.5" width="31.9" height="4.4" fill="#fff" stroke="#000" stroke-width="1.2"/>
<text x="490" y="272.2" font-size="7.9" textLength="40" lengthAdjust="spacingAndGlyphs" fill="#767676">N Observed</text>
<line x1="451.9" y1="287.5" x2="485" y2="287.5" fill="none" stroke="#4a4a4a" stroke-width="1.5" stroke-dasharray="1 0.8"/>
<text x="490" y="290.1" font-size="7.9" textLength="46.2" lengthAdjust="spacingAndGlyphs" fill="#767676">A Charlier_Mt</text>
<line x1="451.9" y1="305.5" x2="480.6" y2="305.5" fill="none" stroke="#000" stroke-width="1.15" stroke-dasharray="7.7 2.9"/>
<text x="490" y="308" font-size="7.9" textLength="40.9" lengthAdjust="spacingAndGlyphs" fill="#767676">Gumbel_Mt</text>
<line x1="451.9" y1="323.5" x2="485" y2="323.5" fill="none" stroke="#262626" stroke-width="1.7"/>
<text x="490" y="326.1" font-size="7.9" textLength="45.3" lengthAdjust="spacingAndGlyphs" fill="#767676">Gumbel_MLE</text>
<line x1="451.9" y1="342.5" x2="485" y2="342.5" fill="none" stroke="#000" stroke-width="1.25" stroke-dasharray="2.6 1.3"/>
<text x="490" y="344.5" font-size="7.9" textLength="21.1" lengthAdjust="spacingAndGlyphs" fill="#767676">SB_Mt</text>
<line x1="451.9" y1="360.5" x2="481.5" y2="360.5" fill="none" stroke="#000" stroke-width="1.4" stroke-dasharray="4.3 2.5 1.3 2.5"/>
<text x="490" y="362.5" font-size="7.9" textLength="26.8" lengthAdjust="spacingAndGlyphs" fill="#767676">SB_MLE</text></g>
<g><rect x="4.5" y="487.5" width="265" height="231" fill="none" stroke="#d9d9d9" stroke-width="1"/>
<text x="39.9" y="512.6" font-size="14.2" fill="#767676" textLength="142.5" lengthAdjust="spacingAndGlyphs">(c) <tspan font-style="italic">Q. robur</tspan>: plot T16</text>
<text x="39.6" y="678.7" font-size="10.0" text-anchor="end" fill="#767676" letter-spacing="0.3">0</text>
<text x="39.6" y="648.9" font-size="10.0" text-anchor="end" fill="#767676" letter-spacing="0.3">10</text>
<text x="39.6" y="619.1" font-size="10.0" text-anchor="end" fill="#767676" letter-spacing="0.3">20</text>
<text x="39.6" y="589.3" font-size="10.0" text-anchor="end" fill="#767676" letter-spacing="0.3">30</text>
<text x="39.6" y="559.5" font-size="10.0" text-anchor="end" fill="#767676" letter-spacing="0.3">40</text>
<text x="39.6" y="529.7" font-size="10.0" text-anchor="end" fill="#767676" letter-spacing="0.3">50</text>
<text transform="translate(18.6 628) rotate(-90)" font-size="10.2" letter-spacing="0.2" fill="#767676">Trees·ha<tspan font-size="8.2" dx="1" dy="-3.3">-1</tspan></text>
<text transform="translate(57.67 683.2) rotate(-90)" font-size="10.0" fill="#767676" text-anchor="end" letter-spacing="0.3">6.5</text>
<text transform="translate(77.79 683.2) rotate(-90)" font-size="10.0" fill="#767676" text-anchor="end" letter-spacing="0.3">9.5</text>
<text transform="translate(97.91 683.2) rotate(-90)" font-size="10.0" fill="#767676" text-anchor="end" letter-spacing="0.3">12.5</text>
<text transform="translate(118.02 683.2) rotate(-90)" font-size="10.0" fill="#767676" text-anchor="end" letter-spacing="0.3">15.5</text>
<text transform="translate(138.14 683.2) rotate(-90)" font-size="10.0" fill="#767676" text-anchor="end" letter-spacing="0.3">18.5</text>
<text transform="translate(158.25 683.2) rotate(-90)" font-size="10.0" fill="#767676" text-anchor="end" letter-spacing="0.3">21.5</text>
<text transform="translate(178.37 683.2) rotate(-90)" font-size="10.0" fill="#767676" text-anchor="end" letter-spacing="0.3">24.5</text>
<text transform="translate(198.49 683.2) rotate(-90)" font-size="10.0" fill="#767676" text-anchor="end" letter-spacing="0.3">27.5</text>
<text transform="translate(218.6 683.2) rotate(-90)" font-size="10.0" fill="#767676" text-anchor="end" letter-spacing="0.3">30.5</text>
<text transform="translate(238.72 683.2) rotate(-90)" font-size="10.0" fill="#767676" text-anchor="end" letter-spacing="0.3">33.5</text>
<text transform="translate(258.84 683.2) rotate(-90)" font-size="10.0" fill="#767676" text-anchor="end" letter-spacing="0.3">36.5</text>
<text x="129.4" y="714.2" font-size="10.2" textLength="49" lengthAdjust="spacingAndGlyphs" fill="#767676">DBH (cm)</text>
<rect x="49.32" y="648.04" width="6.71" height="26.46" fill="#fff" stroke="#000" stroke-width="1.15"/>
<rect x="56.03" y="648.04" width="6.71" height="26.46" fill="#fff" stroke="#000" stroke-width="1.15"/>
<rect x="69.44" y="648.04" width="6.71" height="26.46" fill="#fff" stroke="#000" stroke-width="1.15"/>
<rect x="89.55" y="621.58" width="6.71" height="52.92" fill="#fff" stroke="#000" stroke-width="1.15"/>
<rect x="96.26" y="648.04" width="6.71" height="26.46" fill="#fff" stroke="#000" stroke-width="1.15"/>
<rect x="102.96" y="595.11" width="6.71" height="79.39" fill="#fff" stroke="#000" stroke-width="1.15"/>
<rect x="109.67" y="648.04" width="6.71" height="26.46" fill="#fff" stroke="#000" stroke-width="1.15"/>
<rect x="116.37" y="648.04" width="6.71" height="26.46" fill="#fff" stroke="#000" stroke-width="1.15"/>
<rect x="123.08" y="621.58" width="6.71" height="52.92" fill="#fff" stroke="#000" stroke-width="1.15"/>
<rect x="129.79" y="568.65" width="6.71" height="105.85" fill="#fff" stroke="#000" stroke-width="1.15"/>
<rect x="136.49" y="568.65" width="6.71" height="105.85" fill="#fff" stroke="#000" stroke-width="1.15"/>
<rect x="143.2" y="595.11" width="6.71" height="79.39" fill="#fff" stroke="#000" stroke-width="1.15"/>
<rect x="149.9" y="568.65" width="6.71" height="105.85" fill="#fff" stroke="#000" stroke-width="1.15"/>
<rect x="156.61" y="595.11" width="6.71" height="79.39" fill="#fff" stroke="#000" stroke-width="1.15"/>
<rect x="163.31" y="542.19" width="6.71" height="132.31" fill="#fff" stroke="#000" stroke-width="1.15"/>
<rect x="170.02" y="621.58" width="6.71" height="52.92" fill="#fff" stroke="#000" stroke-width="1.15"/>
<rect x="176.72" y="595.11" width="6.71" height="79.39" fill="#fff" stroke="#000" stroke-width="1.15"/>
<rect x="183.43" y="621.58" width="6.71" height="52.92" fill="#fff" stroke="#000" stroke-width="1.15"/>
<rect x="190.14" y="595.11" width="6.71" height="79.39" fill="#fff" stroke="#000" stroke-width="1.15"/>
<rect x="196.84" y="595.11" width="6.71" height="79.39" fill="#fff" stroke="#000" stroke-width="1.15"/>
<rect x="203.55" y="648.04" width="6.71" height="26.46" fill="#fff" stroke="#000" stroke-width="1.15"/>
<rect x="210.25" y="648.04" width="6.71" height="26.46" fill="#fff" stroke="#000" stroke-width="1.15"/>
<rect x="216.96" y="648.04" width="6.71" height="26.46" fill="#fff" stroke="#000" stroke-width="1.15"/>
<rect x="223.66" y="648.04" width="6.71" height="26.46" fill="#fff" stroke="#000" stroke-width="1.15"/>
<rect x="230.37" y="621.58" width="6.71" height="52.92" fill="#fff" stroke="#000" stroke-width="1.15"/>
<rect x="237.07" y="648.04" width="6.71" height="26.46" fill="#fff" stroke="#000" stroke-width="1.15"/>
<rect x="250.48" y="648.04" width="6.71" height="26.46" fill="#fff" stroke="#000" stroke-width="1.15"/>
<line x1="48.82" y1="674.5" x2="257.69" y2="674.5" stroke="#d9d9d9" stroke-width="1"/>
<path d="M52.67 670.06 L59.38 666.64 L66.08 662.29 L72.79 657.03 L79.49 650.97 L86.2 644.23 L92.91 636.97 L99.61 629.39 L106.32 621.73 L113.02 614.25 L119.73 607.24 L126.43 600.97 L133.14 595.71 L139.84 591.71 L146.55 589.16 L153.25 588.18 L159.96 588.83 L166.67 591.09 L173.37 594.83 L180.08 599.88 L186.78 605.98 L193.49 612.85 L200.19 620.17 L206.9 627.62 L213.6 634.92 L220.31 641.81 L227.02 648.12 L233.72 653.7 L240.43 658.49 L247.13 662.47 L253.84 665.69" fill="none" stroke="#4a4a4a" stroke-width="1.5" stroke-dasharray="1 0.8" stroke-linejoin="round"/>
<path d="M52.67 670.06 L59.38 666.64 L66.08 662.29 L72.79 657.03 L79.49 650.97 L86.2 644.23 L92.91 636.97 L99.61 629.39 L106.32 621.73 L113.02 614.25 L119.73 607.24 L126.43 600.97 L133.14 595.71 L139.84 591.71 L146.55 589.16 L153.25 588.18 L159.96 588.83 L166.67 591.09 L173.37 594.83 L180.08 599.88 L186.78 605.98 L193.49 612.85 L200.19 620.17 L206.9 627.62 L213.6 634.92 L220.31 641.81 L227.02 648.12 L233.72 653.7 L240.43 658.49 L247.13 662.47 L253.84 665.69" fill="none" stroke="#000" stroke-width="1.25" stroke-dasharray="2.6 1.3" stroke-linejoin="round"/>
<path d="M52.67 669.05 L59.38 666.25 L66.08 662.75 L72.79 658.52 L79.49 653.56 L86.2 647.9 L92.91 641.62 L99.61 634.84 L106.32 627.7 L113.02 620.4 L119.73 613.18 L126.43 606.31 L133.14 600.07 L139.84 594.76 L146.55 590.66 L153.25 588.01 L159.96 586.98 L166.67 587.69 L173.37 590.14 L180.08 594.24 L186.78 599.81 L193.49 606.55 L200.19 614.15 L206.9 622.2 L213.6 630.34 L220.31 638.19 L227.02 645.48 L233.72 651.97 L240.43 657.53 L247.13 662.12 L253.84 665.76" fill="none" stroke="#000" stroke-width="1.15" stroke-dasharray="7.7 2.9" stroke-linejoin="round"/>
<path d="M52.67 669.05 L59.38 666.25 L66.08 662.75 L72.79 658.52 L79.49 653.56 L86.2 647.9 L92.91 641.62 L99.61 634.84 L106.32 627.7 L113.02 620.4 L119.73 613.18 L126.43 606.31 L133.14 600.07 L139.84 594.76 L146.55 590.66 L153.25 588.01 L159.96 586.98 L166.67 587.69 L173.37 590.14 L180.08 594.24 L186.78 599.81 L193.49 606.55 L200.19 614.15 L206.9 622.2 L213.6 630.34 L220.31 638.19 L227.02 645.48 L233.72 651.97 L240.43 657.53 L247.13 662.12 L253.84 665.76" fill="none" stroke="#262626" stroke-width="1.7" stroke-linejoin="round"/>
<rect x="187.1" y="508.8" width="32.9" height="4.4" fill="#fff" stroke="#000" stroke-width="1.2"/>
<text x="225" y="513.5" font-size="7.9" textLength="40.1" lengthAdjust="spacingAndGlyphs" fill="#767676">N Observed</text>
<line x1="186.5" y1="530.5" x2="220.6" y2="530.5" fill="none" stroke="#4a4a4a" stroke-width="1.5" stroke-dasharray="1 0.8"/>
<text x="225" y="533.3" font-size="7.9" textLength="34.4" lengthAdjust="spacingAndGlyphs" fill="#767676">W_2P_Mt</text>
<line x1="186.5" y1="550.5" x2="220.6" y2="550.5" fill="none" stroke="#000" stroke-width="1.15" stroke-dasharray="7.7 2.9"/>
<text x="225" y="552.5" font-size="7.9" textLength="38.5" lengthAdjust="spacingAndGlyphs" fill="#767676">W_2P_MLE</text>
<line x1="186.5" y1="569.5" x2="220.6" y2="569.5" fill="none" stroke="#262626" stroke-width="1.7"/>
<text x="225" y="572.4" font-size="7.9" textLength="34.4" lengthAdjust="spacingAndGlyphs" fill="#767676">W_3P_Mt</text>
<line x1="186.5" y1="588.5" x2="220.6" y2="588.5" fill="none" stroke="#000" stroke-width="1.25" stroke-dasharray="2.6 1.3"/>
<text x="225" y="591.4" font-size="7.9" textLength="38.5" lengthAdjust="spacingAndGlyphs" fill="#767676">W_3P_MLE</text></g>
<g><rect x="279.5" y="487.5" width="265" height="231" fill="none" stroke="#d9d9d9" stroke-width="1"/>
<text x="315.4" y="512.6" font-size="14.2" fill="#767676" textLength="141.2" lengthAdjust="spacingAndGlyphs">(f) <tspan font-style="italic">T. grandis</tspan>: plot 19</text>
<text x="314.6" y="678.7" font-size="10.0" text-anchor="end" fill="#767676" letter-spacing="0.3">0</text>
<text x="314.6" y="662.14" font-size="10.0" text-anchor="end" fill="#767676" letter-spacing="0.3">10</text>
<text x="314.6" y="645.59" font-size="10.0" text-anchor="end" fill="#767676" letter-spacing="0.3">20</text>
<text x="314.6" y="629.03" font-size="10.0" text-anchor="end" fill="#767676" letter-spacing="0.3">30</text>
<text x="314.6" y="612.48" font-size="10.0" text-anchor="end" fill="#767676" letter-spacing="0.3">40</text>
<text x="314.6" y="595.92" font-size="10.0" text-anchor="end" fill="#767676" letter-spacing="0.3">50</text>
<text x="314.6" y="579.37" font-size="10.0" text-anchor="end" fill="#767676" letter-spacing="0.3">60</text>
<text x="314.6" y="562.81" font-size="10.0" text-anchor="end" fill="#767676" letter-spacing="0.3">70</text>
<text x="314.6" y="546.26" font-size="10.0" text-anchor="end" fill="#767676" letter-spacing="0.3">80</text>
<text x="314.6" y="529.7" font-size="10.0" text-anchor="end" fill="#767676" letter-spacing="0.3">90</text>
<text transform="translate(293.6 628) rotate(-90)" font-size="10.2" letter-spacing="0.2" fill="#767676">Trees·ha<tspan font-size="8.2" dx="1" dy="-3.3">-1</tspan></text>
<text transform="translate(334.28 683.2) rotate(-90)" font-size="10.0" fill="#767676" text-anchor="end" letter-spacing="0.3">8.5</text>
<text transform="translate(354.08 683.2) rotate(-90)" font-size="10.0" fill="#767676" text-anchor="end" letter-spacing="0.3">10.5</text>
<text transform="translate(373.89 683.2) rotate(-90)" font-size="10.0" fill="#767676" text-anchor="end" letter-spacing="0.3">12.5</text>
<text transform="translate(393.69 683.2) rotate(-90)" font-size="10.0" fill="#767676" text-anchor="end" letter-spacing="0.3">14.5</text>
<text transform="translate(413.5 683.2) rotate(-90)" font-size="10.0" fill="#767676" text-anchor="end" letter-spacing="0.3">16.5</text>
<text transform="translate(433.3 683.2) rotate(-90)" font-size="10.0" fill="#767676" text-anchor="end" letter-spacing="0.3">18.5</text>
<text transform="translate(453.1 683.2) rotate(-90)" font-size="10.0" fill="#767676" text-anchor="end" letter-spacing="0.3">20.5</text>
<text transform="translate(472.91 683.2) rotate(-90)" font-size="10.0" fill="#767676" text-anchor="end" letter-spacing="0.3">22.5</text>
<text transform="translate(492.71 683.2) rotate(-90)" font-size="10.0" fill="#767676" text-anchor="end" letter-spacing="0.3">24.5</text>
<text transform="translate(512.52 683.2) rotate(-90)" font-size="10.0" fill="#767676" text-anchor="end" letter-spacing="0.3">26.5</text>
<text transform="translate(532.32 683.2) rotate(-90)" font-size="10.0" fill="#767676" text-anchor="end" letter-spacing="0.3">28.5</text>
<text x="404.4" y="714.2" font-size="10.2" textLength="49" lengthAdjust="spacingAndGlyphs" fill="#767676">DBH (cm)</text>
<rect x="324.33" y="621.52" width="9.9" height="52.98" fill="#fff" stroke="#000" stroke-width="1.15"/>
<rect x="334.23" y="568.54" width="9.9" height="105.96" fill="#fff" stroke="#000" stroke-width="1.15"/>
<rect x="344.13" y="595.03" width="9.9" height="79.47" fill="#fff" stroke="#000" stroke-width="1.15"/>
<rect x="354.04" y="595.03" width="9.9" height="79.47" fill="#fff" stroke="#000" stroke-width="1.15"/>
<rect x="363.94" y="542.06" width="9.9" height="132.44" fill="#fff" stroke="#000" stroke-width="1.15"/>
<rect x="373.84" y="542.06" width="9.9" height="132.44" fill="#fff" stroke="#000" stroke-width="1.15"/>
<rect x="383.74" y="595.03" width="9.9" height="79.47" fill="#fff" stroke="#000" stroke-width="1.15"/>
<rect x="393.64" y="595.03" width="9.9" height="79.47" fill="#fff" stroke="#000" stroke-width="1.15"/>
<rect x="403.55" y="568.54" width="9.9" height="105.96" fill="#fff" stroke="#000" stroke-width="1.15"/>
<rect x="413.45" y="542.06" width="9.9" height="132.44" fill="#fff" stroke="#000" stroke-width="1.15"/>
<rect x="423.35" y="621.52" width="9.9" height="52.98" fill="#fff" stroke="#000" stroke-width="1.15"/>
<rect x="433.25" y="648.01" width="9.9" height="26.49" fill="#fff" stroke="#000" stroke-width="1.15"/>
<rect x="443.15" y="568.54" width="9.9" height="105.96" fill="#fff" stroke="#000" stroke-width="1.15"/>
<rect x="453.05" y="648.01" width="9.9" height="26.49" fill="#fff" stroke="#000" stroke-width="1.15"/>
<rect x="462.96" y="621.52" width="9.9" height="52.98" fill="#fff" stroke="#000" stroke-width="1.15"/>
<rect x="502.56" y="648.01" width="9.9" height="26.49" fill="#fff" stroke="#000" stroke-width="1.15"/>
<rect x="522.37" y="648.01" width="9.9" height="26.49" fill="#fff" stroke="#000" stroke-width="1.15"/>
<line x1="323.83" y1="674.5" x2="532.77" y2="674.5" stroke="#d9d9d9" stroke-width="1"/>
<path d="M329.28 635.72 L339.18 623.65 L349.08 610.67 L358.99 597.56 L368.89 585.31 L378.79 575.04 L388.69 567.83 L398.59 564.63 L408.5 566 L418.4 571.99 L428.3 582.09 L438.2 595.25 L448.1 610.06 L458.01 624.99 L467.91 638.7 L477.81 650.23 L487.71 659.14 L497.61 665.47 L507.52 669.59 L517.42 672.04 L527.32 673.37" fill="none" stroke="#4a4a4a" stroke-width="1.5" stroke-dasharray="1 0.8" stroke-linejoin="round"/>
<path d="M329.28 632.7 L339.18 621.18 L349.08 609.2 L358.99 597.52 L368.89 586.97 L378.79 578.45 L388.69 572.8 L398.59 570.65 L408.5 572.36 L418.4 577.88 L428.3 586.75 L438.2 598.13 L448.1 610.97 L458.01 624.09 L467.91 636.46 L477.81 647.27 L487.71 656.07 L497.61 662.74 L507.52 667.44 L517.42 670.53 L527.32 672.42" fill="none" stroke="#000" stroke-width="1.15" stroke-dasharray="7.7 2.9" stroke-linejoin="round"/>
<path d="M329.28 636.11 L339.18 624.16 L349.08 611.31 L358.99 598.33 L368.89 586.21 L378.79 576.03 L388.69 568.9 L398.59 565.73 L408.5 567.08 L418.4 573.01 L428.3 583.02 L438.2 596.05 L448.1 610.7 L458.01 625.49 L467.91 639.06 L477.81 650.47 L487.71 659.3 L497.61 665.56 L507.52 669.64 L517.42 672.07 L527.32 673.39" fill="none" stroke="#000" stroke-width="1.25" stroke-dasharray="2.6 1.3" stroke-linejoin="round"/>
<path d="M329.28 628.77 L339.18 605.24 L349.08 586.54 L358.99 573.23 L368.89 565.47 L378.79 563.01 L388.69 565.23 L398.59 571.27 L408.5 580.15 L418.4 590.83 L428.3 602.38 L438.2 613.98 L448.1 624.99 L458.01 634.99 L467.91 643.71 L477.81 651.06 L487.71 657.06 L497.61 661.81 L507.52 665.46 L517.42 668.2 L527.32 670.21" fill="none" stroke="#262626" stroke-width="1.7" stroke-linejoin="round"/>
<rect x="462.1" y="508.8" width="32.9" height="4.4" fill="#fff" stroke="#000" stroke-width="1.2"/>
<text x="500" y="513.5" font-size="7.9" textLength="40.1" lengthAdjust="spacingAndGlyphs" fill="#767676">N Observed</text>
<line x1="461.5" y1="530.5" x2="495.6" y2="530.5" fill="none" stroke="#4a4a4a" stroke-width="1.5" stroke-dasharray="1 0.8"/>
<text x="500" y="533.3" font-size="7.9" textLength="34.4" lengthAdjust="spacingAndGlyphs" fill="#767676">W_2P_Mt</text>
<line x1="461.5" y1="550.5" x2="495.6" y2="550.5" fill="none" stroke="#000" stroke-width="1.15" stroke-dasharray="7.7 2.9"/>
<text x="500" y="552.5" font-size="7.9" textLength="38.5" lengthAdjust="spacingAndGlyphs" fill="#767676">W_2P_MLE</text>
<line x1="461.5" y1="569.5" x2="495.6" y2="569.5" fill="none" stroke="#262626" stroke-width="1.7"/>
<text x="500" y="572.4" font-size="7.9" textLength="34.4" lengthAdjust="spacingAndGlyphs" fill="#767676">W_3P_Mt</text>
<line x1="461.5" y1="588.5" x2="495.6" y2="588.5" fill="none" stroke="#000" stroke-width="1.25" stroke-dasharray="2.6 1.3"/>
<text x="500" y="591.4" font-size="7.9" textLength="38.5" lengthAdjust="spacingAndGlyphs" fill="#767676">W_3P_MLE</text></g>
</svg></body></html>
